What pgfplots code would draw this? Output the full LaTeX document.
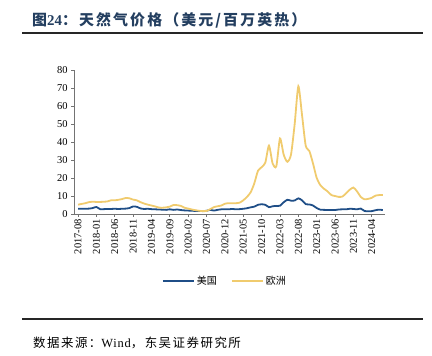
\documentclass[border=0pt]{standalone}
\usepackage{fontspec}
\setmainfont{Liberation Serif}
\newfontfamily\cjk{Noto Sans CJK SC}
\newfontfamily\cjktitle[LetterSpace=14]{Noto Sans CJK SC}
\newfontfamily\cjkfoot[LetterSpace=12]{Noto Sans CJK SC}
\newfontfamily\serfoot[LetterSpace=6]{Liberation Serif}
\usepackage{pgfplots}
\usepackage{pgfplotstable}
\pgfplotsset{compat=1.18}
\definecolor{usblue}{HTML}{1F4E87}
\definecolor{euyellow}{HTML}{F0CB6E}
\definecolor{titlec}{HTML}{243F60}
\pgfplotstableread{
m us eu
0 2.9 5.2
1 2.95 5.6
2 2.9 6.0
3 3.0 6.6
4 3.3 6.8
5 3.9 6.7
6 2.7 6.7
7 2.7 6.8
8 2.8 7.0
9 2.8 7.6
10 2.9 7.6
11 2.8 7.9
12 2.9 8.3
13 3.0 8.9
14 3.3 8.7
15 4.2 8.0
16 4.0 7.6
17 3.1 6.6
18 2.8 5.8
19 2.9 5.2
20 2.7 4.7
21 2.6 4.2
22 2.5 3.6
23 2.4 3.5
24 2.3 3.7
25 2.6 4.1
26 2.3 5.0
27 2.5 4.9
28 2.2 4.5
29 2.0 3.5
30 1.9 3.0
31 1.8 2.5
32 1.7 2.1
33 1.7 1.8
34 1.6 1.6
35 1.8 1.7
36 2.3 2.7
37 1.9 3.8
38 2.3 4.3
39 2.6 4.7
40 2.6 5.7
41 2.6 6.0
42 2.8 6.0
43 2.6 6.0
44 2.7 6.3
45 2.9 7.6
46 3.2 9.5
47 3.7 12.0
48 4.1 17.0
49 5.1 24.0
50 5.4 26.0
51 5.1 28.5
52 3.8 38.0
53 4.3 28.0
54 4.5 26.5
55 4.6 42.0
56 6.5 33.0
57 7.9 29.0
58 7.4 33.0
59 7.5 50.0
60 8.7 71.0
61 7.6 55.0
62 5.5 38.0
63 5.3 35.0
64 4.7 28.0
65 3.3 20.0
66 2.4 16.0
67 2.3 14.0
68 2.2 12.5
69 2.2 10.5
70 2.2 10.0
71 2.5 9.5
72 2.6 9.7
73 2.6 11.5
74 2.9 13.5
75 2.8 14.7
76 2.6 12.5
77 3.0 9.5
78 1.7 8.2
79 1.5 8.4
80 1.6 9.0
81 2.1 10.2
82 2.4 10.5
83 2.2 10.5
}\gasdata
\begin{document}
\begin{tikzpicture}
\path[use as bounding box] (0,0) rectangle (432bp,356bp);
\node[anchor=west, text=titlec, inner sep=0pt] at (32bp,336bp)
  {\fontsize{15}{17}\selectfont\cjktitle\bfseries 图{\rmfamily\bfseries 24}：天然气价格（美元/百万英热）};
\draw[line width=1.3bp, black!85] (22bp,323bp) -- (423bp,323bp);
\draw[line width=1.3bp, black!85] (22bp,37bp) -- (423bp,37bp);
\node[anchor=west, inner sep=0pt] at (33bp,13bp)
  {\fontsize{12.5}{14}\selectfont{\cjkfoot 数据来源：}{\serfoot Wind}{\cjkfoot ，东吴证券研究所}};
\begin{axis}[
  at={(74bp,142bp)}, anchor=south west,
  scale only axis, width=311bp, height=144bp,
  xmin=-1.1, xmax=83.6, ymin=0, ymax=80,
  axis x line*=bottom, axis y line*=left,
  axis line style={black!55, line width=0.8bp},
  tick style={black!55, line width=0.8bp},
  tick align=outside, major tick length=3bp,
  xtick={0,5,...,80},
  xticklabels={2017-08,2018-01,2018-06,2018-11,2019-04,2019-09,2020-02,2020-07,2020-12,2021-05,2021-10,2022-03,2022-08,2023-01,2023-06,2023-11,2024-04},
  x tick label style={rotate=90, anchor=east, font=\fontsize{10.5}{12}\selectfont, inner sep=2pt},
  ytick={0,10,...,80},
  y tick label style={font=\fontsize{10.5}{12}\selectfont},
  /pgf/number format/assume math mode=true,
  legend style={at={(0.485,-0.465)}, anchor=center, draw=none, fill=none,
    font=\fontsize{10}{12}\selectfont\cjk, legend columns=2,
    /tikz/every even column/.append style={column sep=12bp}},
  legend image code/.code={\draw[#1, line width=2bp] (0bp,0bp) -- (31bp,0bp);},
]
\addplot[usblue, line width=1.8bp, smooth, tension=0.4] table[x=m, y=us] {\gasdata};
\addlegendentry{美国}
\addplot[euyellow, line width=1.8bp, smooth, tension=0.4] table[x=m, y=eu] {\gasdata};
\addlegendentry{欧洲}
\end{axis}
\end{tikzpicture}
\end{document}
